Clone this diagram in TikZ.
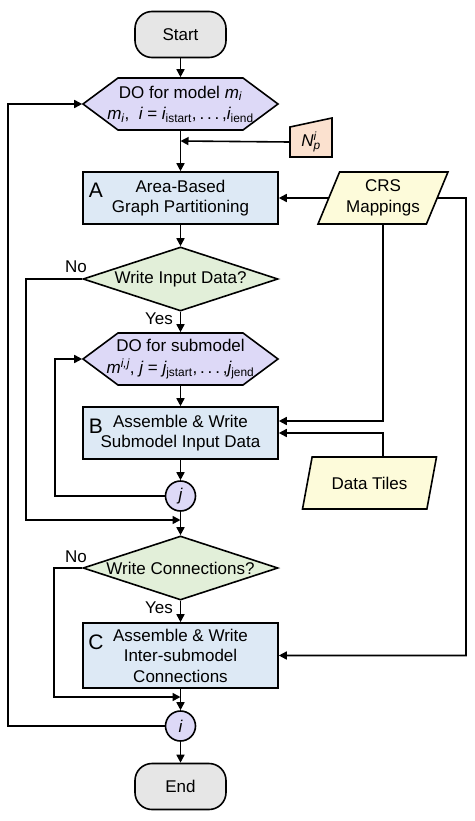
\documentclass[tikz,border=0pt]{standalone}
\usepackage{fontspec}
\setmainfont{Liberation Sans}
\usetikzlibrary{shapes.geometric,shapes.misc,arrows.meta,calc}
\definecolor{cgray}{HTML}{E6E6E6}
\definecolor{clav}{HTML}{DDD9F7}
\definecolor{cblue}{HTML}{DDE9F5}
\definecolor{cgreen}{HTML}{E2EFD9}
\definecolor{cyellow}{HTML}{FDFBDA}
\definecolor{cpeach}{HTML}{FBE1CF}
\newcommand\iv[1]{{\itshape #1}}
% hexagon outline centred at (#1,#2), 195 x 52, pointed ends 35 deep
\newcommand\hexshape[2]{%
  \filldraw[fill=clav] ($(#1,#2)+(-97.5,0)$) -- ++(35,-26) -- ++(125,0) -- ++(35,26) -- ++(-35,26) -- ++(-125,0) -- cycle;}
\begin{document}
\begin{tikzpicture}[x=1pt,y=-1pt,
  font=\fontsize{17}{20.5}\selectfont,
  every path/.append style={line width=1.6pt},
  >={Triangle[length=8pt,width=8pt]},
  term/.style={rectangle, rounded corners=17pt, draw, fill=cgray, minimum width=91pt, minimum height=46pt, inner sep=0pt},
  proc/.style={rectangle, draw, fill=cblue, minimum width=195pt, minimum height=52pt, align=center, inner sep=0pt},
  hexa/.style={rectangle, minimum width=195pt, minimum height=52pt, align=center, inner sep=0pt},
  deci/.style={diamond, aspect=3, draw, fill=cgreen, minimum width=195pt, minimum height=64pt, inner sep=0pt},
  para/.style={trapezium, trapezium left angle=63, trapezium right angle=117, trapezium stretches=true, draw, fill=cyellow, minimum height=52pt, align=center, inner sep=0pt},
  circ/.style={circle, draw, fill=clav, minimum size=30pt, inner sep=0pt},
  big/.style={font=\fontsize{21}{24}\selectfont, inner sep=0pt},
  lab/.style={inner sep=0pt}
]
\useasboundingbox (0,0) rectangle (474,821);

\node[term] (start) at (180.5,34.5) {Start};
\hexshape{180.5}{104}
\node[hexa] (do1) at (180.5,104) {DO for model \iv{m}\textsubscript{\iv{i}}\\[1pt]
  \iv{m}\textsubscript{\iv{i}}, \ \iv{i} = \iv{i}\textsubscript{istart},\,.\,.\,.\,,\iv{i}\textsubscript{iend}};
\filldraw[fill=cpeach] (290,127) -- (332,118) -- (332,157) -- (290,157) -- cycle;
\node[minimum width=42pt, minimum height=30pt, inner sep=0pt] (np) at (311,142) {\iv{N}\rlap{\textsuperscript{\iv{i}}}\textsubscript{\iv{p}}};
\coordinate (npj) at (180.5,141);
\node[proc] (a) at (180.5,198) {Area-Based\\Graph Partitioning};
\node[big] (la) at (96,190) {A};
\node[para, minimum width=130pt] (crs) at (383,198) {CRS\\Mappings};
\node[deci] (d1) at (180.5,279) {Write Input Data?};
\node[lab] (no1) at (76,267) {No};
\node[lab] (yes1) at (159,319) {Yes};
\hexshape{180.5}{359}
\node[hexa] (do2) at (180.5,359) {DO for submodel\\[1pt]
  \iv{m}\textsuperscript{\iv{i,j}}, \iv{j} = \iv{j}\textsubscript{jstart},\,.\,.\,.\,,\iv{j}\textsubscript{jend}};
\node[proc] (b) at (180.5,433) {Assemble \& Write\\Submodel Input Data};
\node[big] (lb) at (96,426) {B};
\node[para, minimum width=135pt] (dt) at (369.5,483) {Data Tiles};
\node[circ] (j) at (180.5,496) {\iv{j}};
\coordinate (m1) at (180.5,520);
\node[deci] (d2) at (180.5,568) {Write Connections?};
\node[lab] (no2) at (76,557) {No};
\node[lab] (yes2) at (159,608) {Yes};
\node[proc, minimum height=65pt] (c) at (180.5,655.5) {Assemble \& Write\\Inter-submodel\\Connections};
\node[big] (lc) at (96,642) {C};
\coordinate (m2) at (180.5,697);
\node[circ] (i) at (180.5,726) {\iv{i}};
\node[term] (end) at (180.5,786.5) {End};

\draw[->] (start) -- (do1);
\draw[->] (do1) -- (a);
\draw[->] (np.west) -- (npj);
\draw[->] (crs.west) -- (a.east);
\coordinate (rr) at (466,198);
\draw[->] (crs.east) -- (rr) |- (c.east);
\coordinate (b1) at ($(b.east)+(0,-12)$);
\draw[->] (crs.south) |- (b1);
\draw[->] (crs.south |- dt.north) |- (b.east);
\draw[->] (a) -- (d1);
\draw[->] (d1) -- (do2);
\draw[->] (d1.west) -- ++(-56,0) |- (m1);
\draw[->] (do2) -- (b);
\draw[->] (b) -- (j);
\draw[->] (j.west) -- ++(-110,0) |- (do2.west);
\draw[->] (j) -- (d2);
\draw[->] (d2) -- (c);
\draw[->] (d2.west) -- ++(-28,0) |- (m2);
\draw[->] (c) -- (i);
\draw[->] (i.west) -- ++(-157,0) |- (do1.west);
\draw[->] (i) -- (end);
\end{tikzpicture}
\end{document}
